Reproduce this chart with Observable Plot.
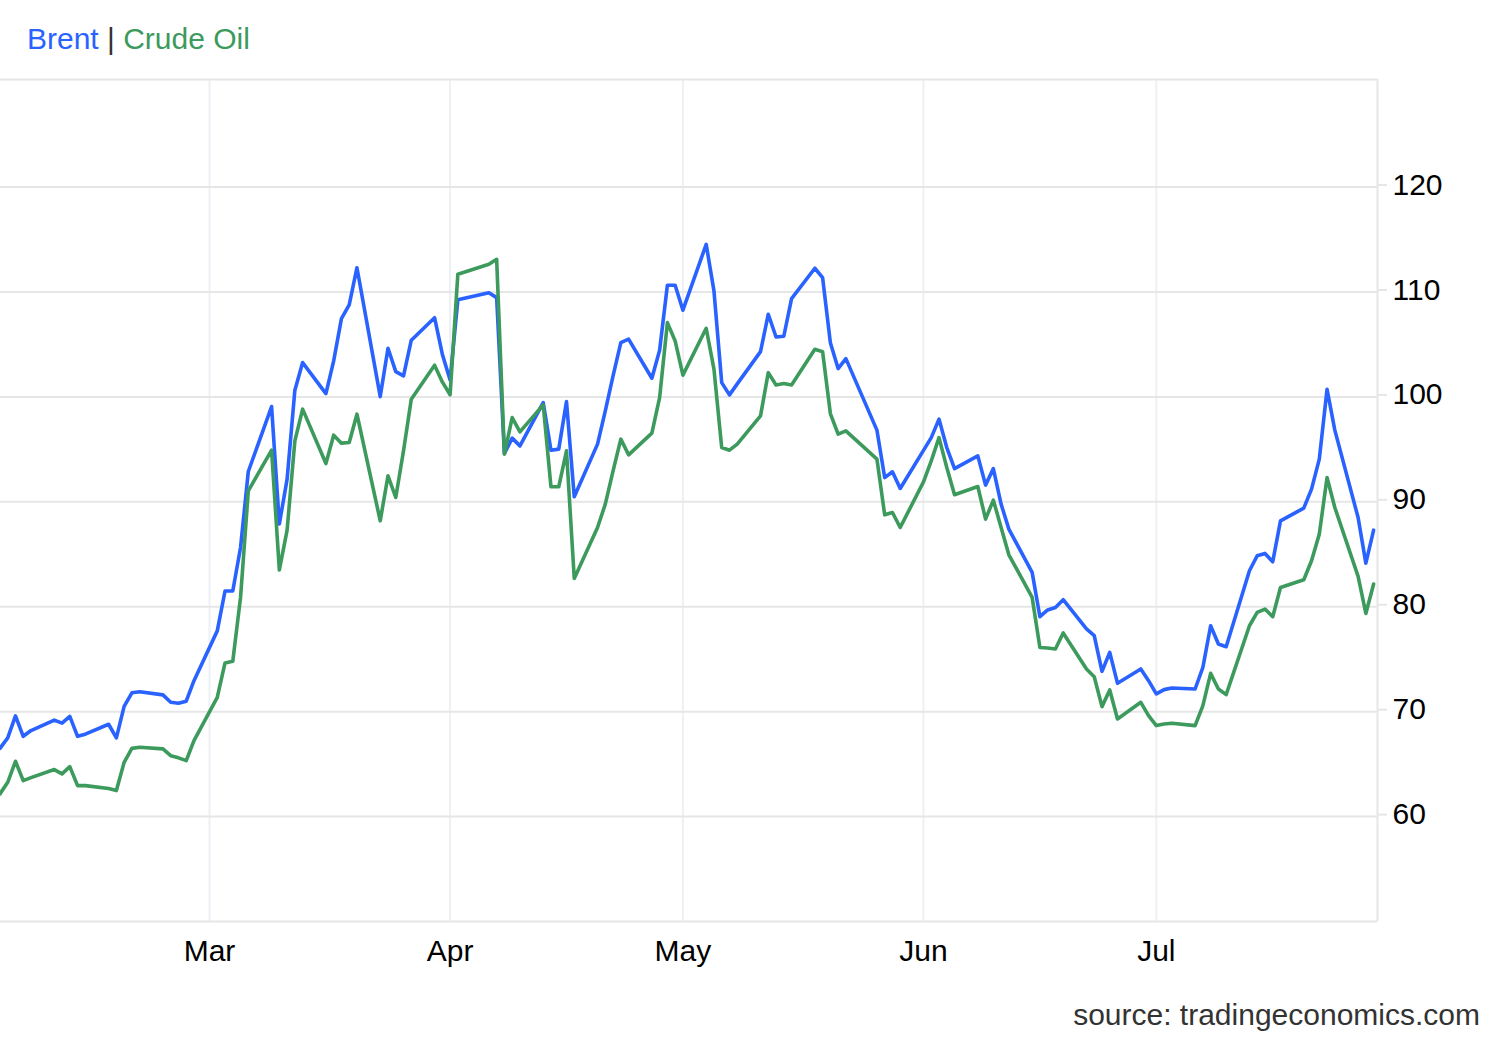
<!DOCTYPE html>
<html>
<head>
<meta charset="utf-8">
<script src="https://cdn.jsdelivr.net/npm/d3@7"></script>
<script src="https://cdn.jsdelivr.net/npm/@observablehq/plot@0.6"></script>
<style>
  html, body { margin: 0; padding: 0; background: #fff; }
  body { width: 1500px; height: 1040px; position: relative; overflow: hidden;
         font-family: "Liberation Sans", Arial, sans-serif; }
  #title { position: absolute; left: 27px; top: 22px; font-size: 30px; line-height: 34px; white-space: nowrap; }
  #chart { position: absolute; left: 0; top: 70px; }
  #source { position: absolute; right: 20px; top: 998px; font-size: 30px; line-height: 34px; color: #333; white-space: nowrap; }
</style>
</head>
<body>
<div id="title"><span style="color:#2962ff">Brent</span> <span style="color:#333">|</span> <span style="color:#3d9a5d">Crude Oil</span></div>
<div id="chart"></div>
<div id="source">source: tradingeconomics.com</div>
<script>
const dates = [
  "2026-02-02","2026-02-03","2026-02-04","2026-02-05","2026-02-06","2026-02-09","2026-02-10","2026-02-11","2026-02-12","2026-02-13",
  "2026-02-16","2026-02-17","2026-02-18","2026-02-19","2026-02-20","2026-02-23","2026-02-24","2026-02-25","2026-02-26","2026-02-27",
  "2026-03-02","2026-03-03","2026-03-04","2026-03-05","2026-03-06","2026-03-09","2026-03-10","2026-03-11","2026-03-12","2026-03-13",
  "2026-03-16","2026-03-17","2026-03-18","2026-03-19","2026-03-20","2026-03-23","2026-03-24","2026-03-25","2026-03-26","2026-03-27",
  "2026-03-30","2026-03-31",
  "2026-04-01","2026-04-02","2026-04-06","2026-04-07","2026-04-08","2026-04-09","2026-04-10","2026-04-13","2026-04-14","2026-04-15",
  "2026-04-16","2026-04-17","2026-04-20","2026-04-21","2026-04-22","2026-04-23","2026-04-24","2026-04-27","2026-04-28","2026-04-29",
  "2026-04-30",
  "2026-05-01","2026-05-04","2026-05-05","2026-05-06","2026-05-07","2026-05-08","2026-05-11","2026-05-12","2026-05-13","2026-05-14",
  "2026-05-15","2026-05-18","2026-05-19","2026-05-20","2026-05-21","2026-05-22","2026-05-26","2026-05-27","2026-05-28","2026-05-29",
  "2026-06-01","2026-06-02","2026-06-03","2026-06-04","2026-06-05","2026-06-08","2026-06-09","2026-06-10","2026-06-11","2026-06-12",
  "2026-06-15","2026-06-16","2026-06-17","2026-06-18","2026-06-19","2026-06-22","2026-06-23","2026-06-24","2026-06-25","2026-06-26",
  "2026-06-29","2026-06-30",
  "2026-07-01","2026-07-02","2026-07-03","2026-07-06","2026-07-07","2026-07-08","2026-07-09","2026-07-10","2026-07-13","2026-07-14",
  "2026-07-15","2026-07-16","2026-07-17","2026-07-20","2026-07-21","2026-07-22","2026-07-23","2026-07-24","2026-07-27","2026-07-28",
  "2026-07-29"
];

const brent = [
  66.5, 67.5, 69.6, 67.65, 68.2, 69.2, 68.9, 69.55, 67.65, 67.85,
  68.8, 67.5, 70.5, 71.8, 71.9, 71.6, 70.9, 70.8, 71.0, 72.95,
  77.7, 81.5, 81.5, 85.65, 92.89, 99.08, 87.88, 92.16, 100.64, 103.27,
  100.31, 103.43, 107.46, 108.76, 112.31, 100.03, 104.64, 102.41, 102.0, 105.4,
  107.55, 104.07,
  101.6, 109.25, 109.93, 109.46, 94.6, 96.07, 95.33, 99.46, 94.92, 95.02,
  99.55, 90.48, 95.5, 98.67, 102.0, 105.17, 105.5, 101.78, 104.45, 110.64,
  110.64,
  108.26, 114.54, 110.1, 101.36, 100.19, 101.24, 104.31, 107.88, 105.71, 105.78,
  109.36, 112.26, 111.36, 105.17, 102.7, 103.65, 96.83, 92.31, 92.86, 91.27,
  94.9, 96.12, 97.88, 95.17, 93.17, 94.38, 91.59, 93.17, 89.78, 87.4,
  83.27, 79.05, 79.69, 79.93, 80.67, 77.88, 77.24, 73.84, 75.65, 72.7,
  74.07, 72.95,
  71.69, 72.1, 72.26, 72.16, 74.22, 78.19, 76.45, 76.19, 83.43, 84.86,
  85.08, 84.29, 88.19, 89.4, 91.21, 94.07, 100.73, 96.83, 88.5, 84.16,
  87.3
];

const crude = [
  62.16, 63.27, 65.27, 63.43, 63.71, 64.48, 64.07, 64.76, 62.95, 62.95,
  62.67, 62.48, 65.17, 66.5, 66.6, 66.45, 65.8, 65.6, 65.33, 67.24,
  71.36, 74.64, 74.8, 80.89, 91.05, 94.92, 83.5, 87.3, 95.81, 98.83,
  93.65, 96.35, 95.59, 95.65, 98.35, 88.19, 92.48, 90.41, 94.86, 99.78,
  103.02, 101.43,
  100.2, 111.69, 112.64, 113.11, 94.54, 98.03, 96.67, 99.24, 91.43, 91.43,
  94.86, 82.7, 87.55, 89.78, 92.95, 95.97, 94.48, 96.54, 99.93, 107.08,
  105.33,
  102.07, 106.54, 102.64, 95.17, 94.92, 95.5, 98.19, 102.31, 101.14, 101.27,
  101.14, 104.54, 104.31, 98.41, 96.45, 96.76, 94.07, 88.76, 88.98, 87.55,
  91.9, 93.9, 96.12, 93.27, 90.67, 91.46, 88.35, 90.16, 87.55, 84.95,
  80.89, 76.12, 76.07, 75.97, 77.5, 74.07, 73.33, 70.48, 72.07, 69.3,
  70.89, 69.62,
  68.67, 68.83, 68.89, 68.67, 70.57, 73.65, 72.16, 71.62, 78.19, 79.46,
  79.78, 79.05, 81.84, 82.57, 84.38, 86.92, 92.31, 89.46, 82.89, 79.36,
  82.16
];

const monthTicks = ["2026-03-01","2026-04-01","2026-05-01","2026-06-01","2026-07-01"];
const yGridTicks = [50, 60, 70, 80, 90, 100, 110, 120];
const yLabelTicks = [60, 70, 80, 90, 100, 110, 120];
const xDomain = ["2026-02-02T01:40:00Z", "2026-07-29T12:00:00Z"];
const yDomain = [50, 130.25];

const table = dates.map((d, i) => ({date: new Date(d), brent: brent[i], crude: crude[i]}));
const mTicks = monthTicks.map(d => new Date(d));
const xd = xDomain.map(d => new Date(d));

const chart = Plot.plot({
  width: 1500,
  height: 911,
  marginLeft: 0,
  marginRight: 123,
  marginTop: 9,
  marginBottom: 60,
  style: {fontFamily: "'Liberation Sans', Arial, sans-serif", fontSize: "30px", background: "white", color: "#000", overflow: "visible"},
  x: {type: "utc", domain: xd},
  y: {domain: yDomain},
  marks: [
    Plot.gridX(mTicks, {stroke: "#edf0f5", strokeOpacity: 1, strokeWidth: 2}),
    Plot.gridY(yGridTicks, {stroke: "#e6e6e6", strokeOpacity: 1, strokeWidth: 2}),
    Plot.ruleY([yDomain[1]], {stroke: "#e6e6e6", strokeWidth: 2}),
    Plot.ruleX([xd[1]], {stroke: "#e6e6e6", strokeWidth: 2}),
    Plot.axisX(mTicks, {tickSize: 0, tickPadding: 18, tickFormat: "%b", label: null, fill: "#000"}),
    Plot.axisY(yLabelTicks, {anchor: "right", tickSize: 9, tickPadding: 6, stroke: "#e6e6e6", strokeWidth: 2, fill: "#000", label: null, dy: -2}),
    Plot.line(table, {x: "date", y: "brent", stroke: "#2962ff", strokeWidth: 3.6}),
    Plot.line(table, {x: "date", y: "crude", stroke: "#3d9a5d", strokeWidth: 3.6})
  ]
});
document.getElementById("chart").appendChild(chart);
</script>
</body>
</html>
